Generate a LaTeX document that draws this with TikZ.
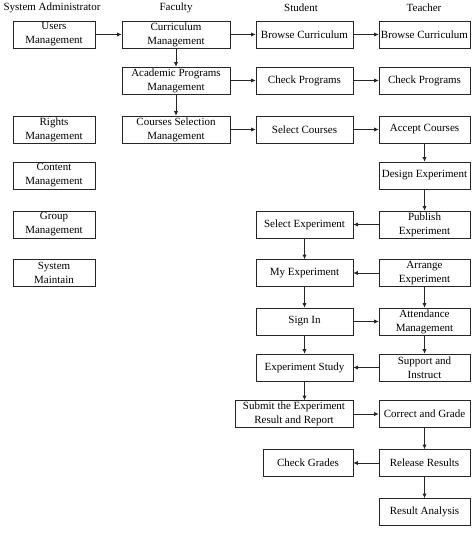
\documentclass[tikz,border=0pt]{standalone}
\usepackage{fontspec}
\setmainfont{Liberation Serif}
\usetikzlibrary{arrows.meta}
\tikzset{
  box/.style={draw=black!85, line width=0.6pt, minimum height=27pt, inner sep=1pt,
    align=center, font=\fontsize{11}{14}\selectfont},
  adm/.style={box, minimum width=82pt},
  fac/.style={box, minimum width=108pt},
  stu/.style={box, minimum width=97pt},
  tea/.style={box, minimum width=91pt},
  head/.style={font=\fontsize{11}{14}\selectfont},
  flow/.style={-{Latex[length=4.5pt,width=4pt]}, line width=0.6pt, draw=black!85},
}
\begin{document}
\begin{tikzpicture}[x=1pt,y=-1pt]
  \useasboundingbox (0,0) rectangle (474,537);
  % column heads
    \node[head] (hadm) at (52,8) {System Administrator};
    \node[head] (hfac) at (176,8) {Faculty};
    \node[head] (hstu) at (301,8) {Student};
    \node[head] (htea) at (424,8) {Teacher};
  % system administrator
    \foreach \n/\y/\t in {users/34.5/Users\\Management, rights/129.5/Rights\\Management,
      content/175.5/Content\\Management, group/224.5/Group\\Management,
      maintain/273/System\\Maintain} {
      \node[adm] (\n) at (54,\y) {\t};
    }
  % faculty
    \node[fac] (curr) at (176,34.5) {Curriculum\\Management};
    \node[fac] (acad) at (176,80.5) {Academic Programs\\Management};
    \node[fac] (csel) at (176,129.5) {Courses Selection\\Management};
  % student
    \node[stu] (sbrowse) at (304.5,34.5) {Browse Curriculum};
    \node[stu] (scheck) at (304.5,80.5) {Check Programs};
    \node[stu] (sselect) at (304.5,129.5) {Select Courses};
    \node[stu] (sexp) at (304.5,224.5) {Select Experiment};
    \node[stu] (myexp) at (304.5,273) {My Experiment};
    \node[stu] (signin) at (304.5,321.5) {Sign In};
    \node[stu] (study) at (304.5,367.5) {Experiment Study};
    \node[box, minimum width=118pt] (submit) at (294,414) {Submit the Experiment\\Result and Report};
    \node[box, minimum width=90pt] (grades) at (308,463) {Check Grades};
  % teacher
    \node[tea] (tbrowse) at (424.5,34.5) {Browse Curriculum};
    \node[tea] (tcheck) at (424.5,80.5) {Check Programs};
    \node[tea] (accept) at (424.5,129.5) {Accept Courses};
    \node[tea] (design) at (424.5,175.5) {Design Experiment};
    \node[tea] (publish) at (424.5,224.5) {Publish\\Experiment};
    \node[tea] (arrange) at (424.5,273) {Arrange\\Experiment};
    \node[tea] (attend) at (424.5,321.5) {Attendance\\Management};
    \node[tea] (support) at (424.5,367.5) {Support and\\Instruct};
    \node[tea] (correct) at (424.5,414) {Correct and Grade};
    \node[tea] (release) at (424.5,463) {Release Results};
    \node[tea] (analysis) at (424.5,512) {Result Analysis};
  % arrows
    \draw[flow] (users) -- (curr);
    \draw[flow] (curr) -- (sbrowse);
    \draw[flow] (sbrowse) -- (tbrowse);
    \draw[flow] (acad) -- (scheck);
    \draw[flow] (scheck) -- (tcheck);
    \draw[flow] (csel) -- (sselect);
    \draw[flow] (sselect) -- (accept);
    \draw[flow] (curr) -- (acad);
    \draw[flow] (acad) -- (csel);
    \draw[flow] (accept) -- (design);
    \draw[flow] (design) -- (publish);
    \draw[flow] (publish) -- (sexp);
    \draw[flow] (sexp) -- (myexp);
    \draw[flow] (arrange) -- (myexp);
    \draw[flow] (arrange) -- (attend);
    \draw[flow] (myexp) -- (signin);
    \draw[flow] (signin) -- (attend);
    \draw[flow] (attend) -- (support);
    \draw[flow] (support) -- (study);
    \draw[flow] (signin) -- (study);
    \draw[flow] (study) -- (study |- submit.north);
    \draw[flow] (submit) -- (correct);
    \draw[flow] (correct) -- (release);
    \draw[flow] (release) -- (grades);
    \draw[flow] (release) -- (analysis);
\end{tikzpicture}
\end{document}
